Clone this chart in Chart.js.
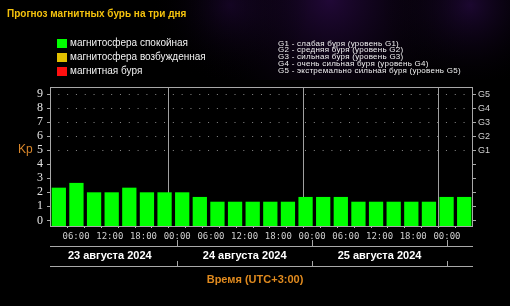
<!DOCTYPE html>
<html><head><meta charset="utf-8">
<script src="https://cdn.jsdelivr.net/npm/chart.js@4.4.1/dist/chart.umd.min.js"></script>
<style>html,body{margin:0;padding:0;background:#000;overflow:hidden}#wrap{width:510px;height:306px;position:relative}</style>
</head><body><div id="wrap"><canvas id="c" width="510" height="306"></canvas></div>
<script>
// ---- data ----
const TITLE = 'Прогноз магнитных бурь на три дня';
// Kp forecast, 3-hour intervals, starting 03:00 23 Aug 2024 (UTC+3)
const kpValues = [2.33, 2.67, 2, 2, 2.33, 2, 2,
                  2, 1.67, 1.33, 1.33, 1.33, 1.33, 1.33, 1.67,
                  1.67, 1.67, 1.33, 1.33, 1.33, 1.33, 1.33, 1.67,
                  1.67];
const startHour = 3;
const barHours = 3;
const categories = kpValues.map((_, i) => String(startHour + i * barHours));
const dayLabels = ['23 августа 2024', '24 августа 2024', '25 августа 2024'];
const yTicks = [0, 1, 2, 3, 4, 5, 6, 7, 8, 9];
const gTickLabels = ['', '', '', '', '', 'G1', 'G2', 'G3', 'G4', 'G5'];
const legendItems = ['магнитосфера спокойная', 'магнитосфера возбужденная', 'магнитная буря'];
const legendColors = ['#00ff00', '#e2c000', '#ff1010'];
const gLegend = ['G1 - слабая буря (уровень G1)', 'G2 - средняя буря (уровень G2)', 'G3 - сильная буря (уровень G3)', 'G4 - очень сильная буря (уровень G4)', 'G5 - экстремально сильная буря (уровень G5)'];
const yAxisTitle = 'Kp';
const xAxisTitle = 'Время (UTC+3:00)';
const Y_MIN = -0.4, Y_MAX = 9.5;

const endHour = startHour + kpValues.length * barHours;
const tickHours = [];
for (let h = startHour + barHours; h < endHour; h += barHours) tickHours.push(h);
function hourLabel(h) { return h % 6 === 0 ? String(h % 24).padStart(2, '0') + ':00' : ''; }
function kpColor(v) { return v < 4 ? legendColors[0] : (v < 5 ? legendColors[1] : legendColors[2]); }

const bgPlugin = {
  id: 'bg',
  beforeDraw(chart) {
    const c = chart.ctx;
    c.save();
    c.fillStyle = '#000'; c.fillRect(0, 0, chart.width, chart.height);
    const blobs = [[330, 0, 150, 'rgba(60,15,100,0.55)'], [470, 5, 90, 'rgba(55,15,95,0.5)'], [230, 5, 80, 'rgba(40,10,70,0.45)']];
    blobs.forEach(([x, y, r, col]) => {
      const g = c.createRadialGradient(x, y, 0, x, y, r);
      g.addColorStop(0, col); g.addColorStop(1, 'rgba(0,0,0,0)');
      c.fillStyle = g; c.fillRect(0, 0, chart.width, 80);
    });
    c.restore();
  },
  beforeDatasetsDraw(chart) {
    const c = chart.ctx, a = chart.chartArea;
    c.save();
    c.strokeStyle = '#a8a8a8'; c.lineWidth = 1;
    c.strokeRect(Math.round(a.left) + 0.5, Math.round(a.top) + 0.5, Math.round(a.right - a.left) - 1, Math.round(a.bottom - a.top));
    c.restore();
  },
  afterDraw(chart) {
    const c = chart.ctx, a = chart.chartArea, xs = chart.scales.xt, ys = chart.scales.y;
    c.save();
    c.textBaseline = 'middle';
    // title
    c.fillStyle = '#f4c20d'; c.font = 'bold 10px "Liberation Sans"'; c.textAlign = 'left';
    c.fillText(TITLE, 7, 14);
    // legend
    legendItems.forEach((t, i) => {
      const y = 43.5 + i * 14;
      c.fillStyle = legendColors[i]; c.fillRect(57, y - 4.5, 10, 9);
      c.fillStyle = '#f2f2f2'; c.font = '10px "Liberation Sans"';
      c.fillText(t, 70, y);
    });
    c.font = '8px "Liberation Sans"'; c.fillStyle = '#f0f0f0';
    try { c.letterSpacing = '0.25px'; } catch (e) {}
    gLegend.forEach((t, i) => c.fillText(t, 278, 43.5 + i * 6.7));
    try { c.letterSpacing = '0px'; } catch (e) {}
    // Kp
    c.fillStyle = '#d8862a'; c.font = '12px "Liberation Sans"';
    c.fillText(yAxisTitle, 18, ys.getPixelForValue(5));
    // date rows
    c.strokeStyle = '#a8a8a8'; c.lineWidth = 1;
    const l = Math.round(a.left), r = Math.round(a.right);
    c.beginPath();
    c.moveTo(l, 246.5); c.lineTo(r, 246.5);
    c.moveTo(l, 266.5); c.lineTo(r, 266.5);
    for (let h = 24; h < endHour; h += 24) {
      const x = Math.round(xs.getPixelForValue(h)) + 0.5;
      c.moveTo(x, 240); c.lineTo(x, 246.5);
      c.moveTo(x, 261); c.lineTo(x, 266.5);
    }
    c.stroke();
    c.fillStyle = '#ffffff'; c.font = 'bold 11px "Liberation Sans"'; c.textAlign = 'center';
    dayLabels.forEach((t, i) => c.fillText(t, xs.getPixelForValue(12 + 24 * i), 256));
    c.fillStyle = '#e08a1e'; c.font = 'bold 11px "Liberation Sans"';
    c.fillText(xAxisTitle, chart.width / 2, 280);
    c.restore();
  }
};

new Chart(document.getElementById('c'), {
  type: 'bar',
  data: {
    labels: categories,
    datasets: [{
      data: kpValues,
      backgroundColor: ctx => kpColor(ctx.raw),
      base: Y_MIN,
      barPercentage: 0.81,
      categoryPercentage: 1,
      borderWidth: 0,
      xAxisID: 'x', yAxisID: 'y'
    }]
  },
  options: {
    responsive: false, animation: false, devicePixelRatio: 1,
    layout: { padding: { top: 87, left: 0, right: 0, bottom: 0 } },
    plugins: { legend: { display: false }, tooltip: { enabled: false }, title: { display: false } },
    scales: {
      x: { type: 'category', display: false, offset: true },
      xt: {
        type: 'linear', position: 'bottom', min: startHour, max: endHour,
        afterBuildTicks: s => { s.ticks = tickHours.map(v => ({ value: v })); },
        afterFit: s => { s.height = 80; },
        ticks: { callback: v => hourLabel(v), font: { family: '"DejaVu Sans Mono"', size: 9 }, color: '#cfcfcf', padding: 3, maxRotation: 0, autoSkip: false },
        grid: { color: c => (c.tick && c.tick.value % 24 === 0) ? '#a0a0a0' : 'rgba(0,0,0,0)', drawOnChartArea: true, drawTicks: true, tickLength: 2, tickColor: '#bbbbbb' },
        border: { display: false }
      },
      y: {
        type: 'linear', position: 'left', min: Y_MIN, max: Y_MAX,
        afterBuildTicks: s => { s.ticks = yTicks.map(v => ({ value: v })); },
        afterFit: s => { s.width = 50; },
        ticks: { callback: v => String(v), font: { family: '"Liberation Serif"', size: 12 }, color: '#e4e4e4', padding: 4, autoSkip: false },
        grid: { color: c => (c.tick && c.tick.value >= 5) ? '#8a8a8a' : 'rgba(0,0,0,0)', tickColor: '#a8a8a8', tickLength: 3, tickBorderDash: [], lineWidth: 1 },
        border: { display: false, dash: [1, 7.81], dashOffset: 0.5 }
      },
      y2: {
        type: 'linear', position: 'right', min: Y_MIN, max: Y_MAX,
        afterBuildTicks: s => { s.ticks = yTicks.map(v => ({ value: v })); },
        afterFit: s => { s.width = 37; },
        ticks: { callback: (v, i) => gTickLabels[v] || '', font: { family: '"Liberation Sans"', size: 9 }, color: '#d0d0d0', padding: 2, autoSkip: false },
        grid: { drawOnChartArea: false, tickColor: '#a8a8a8', tickLength: 3 },
        border: { display: false }
      }
    }
  },
  plugins: [bgPlugin]
});
</script>
</body></html>
